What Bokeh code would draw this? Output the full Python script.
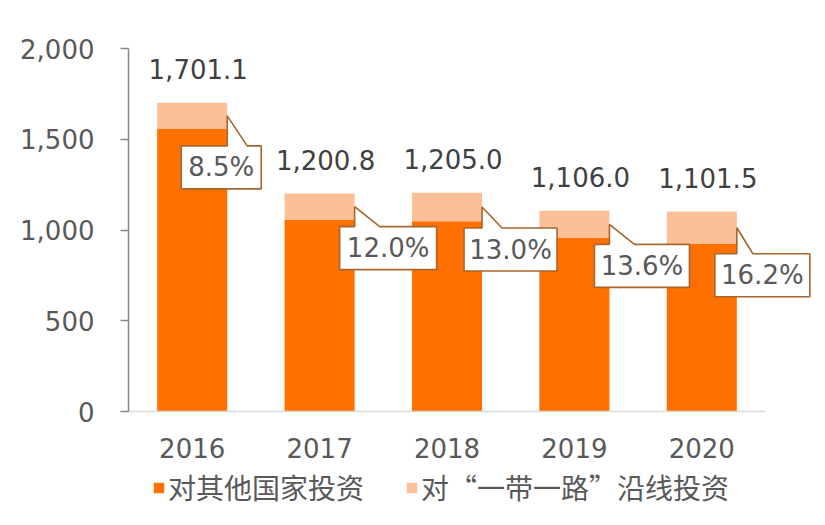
from bokeh.plotting import figure
from bokeh.models import ColumnDataSource, FixedTicker, NumeralTickFormatter, Legend, LegendItem, Range1d
from bokeh.embed import file_html
from bokeh.resources import INLINE
from bokeh.core.properties import value

# ---------------- data ----------------
years = ["2016", "2017", "2018", "2019", "2020"]
totals = [1701.1, 1200.8, 1205.0, 1106.0, 1101.5]
br_share = [8.5, 12.0, 13.0, 13.6, 16.2]
share_labels = ["8.5%", "12.0%", "13.0%", "13.6%", "16.2%"]
total_labels = ["1,701.1", "1,200.8", "1,205.0", "1,106.0", "1,101.5"]
series_names = ["对其他国家投资", "对“一带一路”沿线投资"]
y_ticks = [0, 500, 1000, 1500, 2000]

br = [t * s / 100 for t, s in zip(totals, br_share)]
other = [t - b for t, b in zip(totals, br)]
xs_idx = list(range(len(years)))

# ---------------- layout / style ----------------
W, H = 825, 525
LEFT, RIGHT, TOP = 128, 10, 48
AXIS_Y_PX = 411                     # pixel row of value 0
frame_w = W - LEFT - RIGHT
cat_px = 127.4
x_start = -0.5
x_end = x_start + frame_w / cat_px
y_top = 2000
YP = y_top / (AXIS_Y_PX - TOP)      # data units per pixel (vertical)
XP = 1.0 / cat_px
y_bottom = -(H - AXIS_Y_PX) * YP
BAR_W = 0.55

C_OTHER = "#FF7000"
C_BR = "#FBC097"
C_BORDER = "#A8652C"
C_TEXT = "#595959"
FONT = "DejaVu Sans"
FS = "26px"

# callout layout (pixels): left offset from tip, width, gap below tip, pointer base width
callout_layout = [(-46, 80, 30, 20), (-15, 97, 20, 25), (-18, 93, 21, 20),
                  (-15, 95, 20, 25), (-22, 95, 26, 16)]
BOX_H = 43

p = figure(width=W, height=H, output_backend="svg", toolbar_location=None,
           x_range=Range1d(x_start, x_end), y_range=Range1d(y_bottom, y_top),
           x_axis_location=None,
           min_border_left=LEFT, min_border_right=RIGHT,
           min_border_top=TOP, min_border_bottom=0)
p.outline_line_color = None
p.grid.visible = False
p.background_fill_color = "white"
p.border_fill_color = "white"

src = ColumnDataSource(dict(x=xs_idx, other=other, br=br, total=totals, tl=total_labels,
                            yr=years, zero=[0] * len(years)))
r_other, r_br = p.vbar_stack(["other", "br"], x="x", width=BAR_W, color=[C_OTHER, C_BR],
                             line_color=None, source=src)

# x axis baseline
p.segment(x0=[x_start], y0=[0], x1=[x_start + len(years)], y1=[0],
          line_color="#D9D9D9", line_width=1.5)

# category labels
p.text(x="x", y="zero", text="yr", source=src, y_offset=36,
       text_align="center", text_baseline="middle", text_font=value(FONT),
       text_font_size=FS, text_color=C_TEXT)

# total labels
p.text(x="x", y="total", text="tl", source=src, x_offset=6, y_offset=-34,
       text_align="center", text_baseline="middle", text_font=value(FONT),
       text_font_size=FS, text_color="#404040")

# callouts
poly_xs, poly_ys, cx, cy = [], [], [], []
for i in xs_idx:
    tx = i + BAR_W / 2
    ty = other[i] + br[i] / 2
    lo, w, gap, bw = callout_layout[i]
    L = tx + lo * XP
    R = L + w * XP
    T = ty - gap * YP
    B = T - BOX_H * YP
    bx = tx + bw * XP
    poly_xs.append([L, tx, tx, bx, R, R, L])
    poly_ys.append([T, T, ty, T, T, B, B])
    cx.append((L + R) / 2)
    cy.append((T + B) / 2)
p.patches(xs=poly_xs, ys=poly_ys, fill_color="white", line_color=C_BORDER, line_width=1.6)
p.text(x=cx, y=cy, text=share_labels, text_align="center", text_baseline="middle",
       text_font=value(FONT), text_font_size=FS, text_color=C_TEXT)

# y axis
ya = p.yaxis[0]
ya.ticker = FixedTicker(ticks=y_ticks)
ya.bounds = (0, y_top)
ya.formatter = NumeralTickFormatter(format="0,0")
ya.axis_line_color = "#868686"
ya.axis_line_width = 1.5
ya.major_tick_line_color = "#868686"
ya.major_tick_line_width = 1.5
ya.major_tick_out = 8
ya.major_tick_in = 0
ya.minor_tick_line_color = None
ya.major_label_standoff = 26
ya.major_label_text_font = FONT
ya.major_label_text_font_size = FS
ya.major_label_text_color = C_TEXT

legend = Legend(items=[LegendItem(label=series_names[0], renderers=[r_other]),
                       LegendItem(label=series_names[1], renderers=[r_br])],
                orientation="horizontal", location=(24, 18),
                glyph_width=13, glyph_height=13, label_standoff=3, spacing=41,
                padding=0, margin=0, border_line_color=None, background_fill_alpha=0,
                label_text_font_size="28px", label_text_color=C_TEXT,
                label_text_font="Noto Sans CJK SC", label_height=28)
p.add_layout(legend)

open("out.html", "w").write(file_html(p, INLINE))
